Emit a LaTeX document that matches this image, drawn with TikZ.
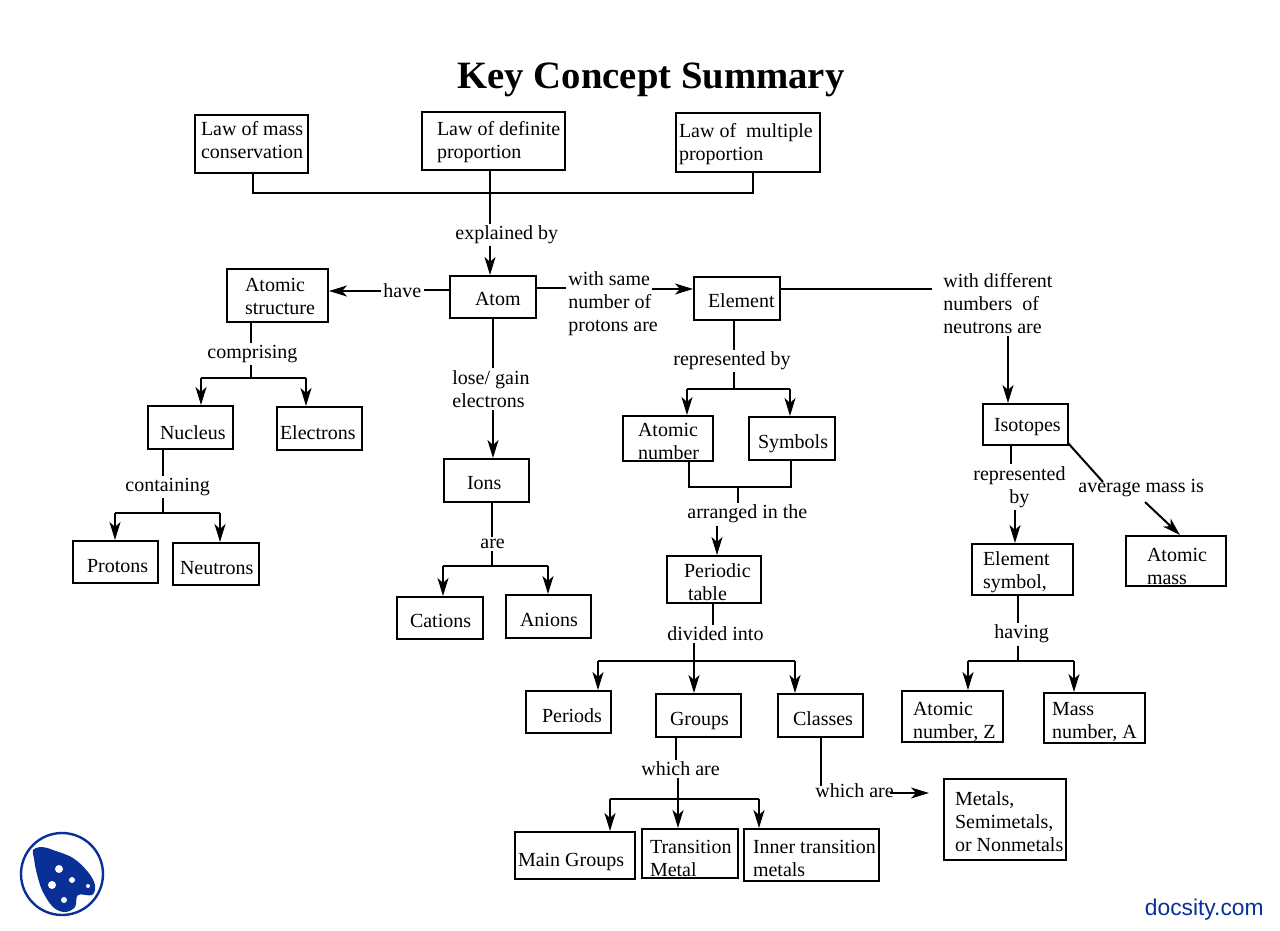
\documentclass[tikz,border=0pt]{standalone}
\usepackage{fontspec}
\setmainfont{Liberation Serif}
\newfontfamily\sitefont{Liberation Sans}
\usetikzlibrary{arrows.meta}
\definecolor{siteblue}{RGB}{8,48,150}
\newcommand{\inbox}[1]{\raisebox{\boxdrop}[0pt][0pt]{\makebox[0pt][l]{\hspace{\boxshift}\begin{tabular}{@{}l@{}}#1\end{tabular}}}}
\tikzset{
  conceptbox/.style n args={4}{draw, line width=1pt, inner sep=0pt, minimum width={#1*0.5pt}, minimum height={#2*0.5pt},
    /utils/exec={\pgfmathsetlengthmacro\boxshift{(#3-#1/2)*0.5pt}\pgfmathsetlengthmacro\boxdrop{-#4*0.5pt-3.7pt}}},
  linktext/.style={anchor=west, inner sep=1pt, align=left},
  flow/.style={line width=1pt},
  flowarrow/.style={line width=1pt, -{Stealth[length=9pt,width=5.5pt,inset=2.5pt]}}
}
\begin{document}
\begin{tikzpicture}[x=0.5pt, y=-0.5pt, font=\fontsize{10}{11.5}\selectfont]
  \useasboundingbox (0,0) rectangle (1280,931);

  \node[inner sep=0pt, font=\fontsize{19.35}{24}\selectfont\bfseries] (title) at (651,80) {Key Concept Summary};

  \node[conceptbox={113}{58}{6}{-4}] (lawmass) at (251.5,144) {\inbox{Law of mass\\conservation}};
  \node[conceptbox={143}{58}{15}{-1}] (lawdefinite) at (493.5,141) {\inbox{Law of definite\\proportion}};
  \node[conceptbox={144}{59}{3}{-0.5}] (lawmultiple) at (748,142.5) {\inbox{Law of~ multiple\\proportion}};
  \node[conceptbox={101}{53}{18}{0}] (structure) at (277.5,295.5) {\inbox{Atomic\\structure}};
  \node[conceptbox={86}{42}{25}{1}] (atom) at (493,297) {\inbox{Atom}};
  \node[conceptbox={86}{43}{14}{2}] (element) at (737,298.5) {\inbox{Element}};
  \node[conceptbox={85}{41}{11}{-0.5}] (isotopes) at (1025.5,424.5) {\inbox{Isotopes}};
  \node[conceptbox={85}{43}{12}{4.5}] (nucleus) at (190.5,427.5) {\inbox{Nucleus}};
  \node[conceptbox={85}{43}{3}{3.5}] (electrons) at (319.5,428.5) {\inbox{Electrons}};
  \node[conceptbox={85}{42}{14}{3}] (protons) at (115.5,562) {\inbox{Protons}};
  \node[conceptbox={86}{42}{7}{3}] (neutrons) at (216,564) {\inbox{Neutrons}};
  \node[conceptbox={85}{43}{23}{1.5}] (ions) at (486.5,480.5) {\inbox{Ions}};
  \node[conceptbox={86}{42}{13}{2}] (cations) at (440,618) {\inbox{Cations}};
  \node[conceptbox={85}{43}{14}{2.5}] (anions) at (548.5,616.5) {\inbox{Anions}};
  \node[conceptbox={90}{45}{15}{2}] (atomicnumber) at (668,438.5) {\inbox{Atomic\\number}};
  \node[conceptbox={86}{43}{9}{2.5}] (symbols) at (792,438.5) {\inbox{Symbols}};
  \node[conceptbox={94}{47}{17}{2.5}] (periodic) at (714,579.5) {\inbox{Periodic\\\hspace*{2pt}table}};
  \node[conceptbox={85}{42}{16}{3}] (periods) at (568.5,712) {\inbox{Periods}};
  \node[conceptbox={85}{43}{14}{2.5}] (groups) at (698.5,715.5) {\inbox{Groups}};
  \node[conceptbox={85}{43}{15}{2.5}] (classes) at (820.5,715.5) {\inbox{Classes}};
  \node[conceptbox={120}{47}{3}{3.5}] (maingroups) at (575,855.5) {\inbox{Main Groups}};
  \node[conceptbox={96}{49}{8}{4}] (transition) at (690,853.5) {\inbox{Transition\\Metal}};
  \node[conceptbox={135}{52}{9}{2.5}] (innertransition) at (811.5,855) {\inbox{Inner transition\\metals}};
  \node[conceptbox={122}{81}{11}{1.5}] (metals) at (1005,819.5) {\inbox{Metals,\\Semimetals,\\or Nonmetals}};
  \node[conceptbox={101}{51}{11}{0.5}] (elementsymbol) at (1022.5,569.5) {\inbox{Element\\symbol,}};
  \node[conceptbox={100}{50}{21}{4.5}] (atomicmass) at (1176,561) {\inbox{Atomic\\mass}};
  \node[conceptbox={101}{51}{11}{3}] (numberz) at (952.5,716.5) {\inbox{Atomic\\number, Z}};
  \node[conceptbox={101}{50}{8}{1.5}] (numbera) at (1094.5,718) {\inbox{Mass\\number, A}};

  \node[linktext] (explained) at (453,235) {explained by};
  \node[linktext] (have) at (381,291) {have};
  \node[linktext] (samenumber) at (566,304) {with same\\number of\\protons are};
  \node[linktext] (different) at (941,303.5) {with different\\numbers~ of\\neutrons are};
  \node[linktext] (comprising) at (205,354) {comprising};
  \node[linktext] (containing) at (123,487) {containing};
  \node[linktext] (losegain) at (450,389) {lose/ gain\\electrons};
  \node[linktext] (are) at (478,544) {are};
  \node[linktext] (representedone) at (671,361) {represented by};
  \node[linktext] (arranged) at (685,514) {arranged in the};
  \node[linktext] (divided) at (665,634) {divided into};
  \node[linktext] (whichgroups) at (639,769) {which are};
  \node[linktext] (whichclasses) at (813,791) {which are};
  \node[linktext, align=center] (representedtwo) at (971,487) {represented\\by};
  \node[linktext] (average) at (1076,488) {average mass is};
  \node[linktext] (having) at (992,634) {having};

  \coordinate (lawjoin) at (490,193);
  \draw[flow] (lawmass.south -| 253,0) |- (lawjoin) -| (lawmultiple.south -| 753,0);
  \draw[flow] (lawdefinite.south -| 490,0) -- (explained.north -| 490,0);
  \draw[flowarrow] (explained.south -| 490,0) -- (atom.north -| 490,0);
  \draw[flow] (atom.west |- 0,290) -- (have.east |- 0,290);
  \draw[flowarrow] (have.west |- 0,291) -- (structure.east |- 0,291);
  \draw[flow] (atom.east |- 0,288) -- (samenumber.west |- 0,288);
  \draw[flowarrow] (652,289) -- (element.west |- 0,289);
  \draw[flow, shorten >=4.5pt] (element.east |- 0,289) -- (different.west |- 0,289);
  \draw[flowarrow] (different.south -| 1008,0) -- (isotopes.north -| 1008,0);

  \draw[flow] (structure.south -| 251,0) -- (comprising.north -| 251,0);
  \draw[flow] (comprising.south -| 251,0) -- (251,378);
  \coordinate (compleft) at (201,378);
  \coordinate (compright) at (306,378);
  \draw[flow] (compleft) -- (compright);
  \draw[flowarrow] (compleft) -- (nucleus.north -| compleft);
  \draw[flowarrow] (compright) -- (electrons.north -| compright);

  \draw[flow] (nucleus.south -| 163,0) -- (containing.north -| 163,0);
  \draw[flow] (containing.south -| 163,0) -- (163,513);
  \coordinate (contleft) at (115,513);
  \coordinate (contright) at (220,513);
  \draw[flow] (contleft) -- (contright);
  \draw[flowarrow] (contleft) -- (protons.north -| contleft);
  \draw[flowarrow] (contright) -- (neutrons.north -| contright);

  \draw[flow] (atom.south -| 493,0) -- (losegain.north -| 493,0);
  \draw[flowarrow] (losegain.south -| 493,0) -- (ions.north -| 493,0);
  \draw[flow] (ions.south -| 492,0) -- (are.north -| 492,0);
  \draw[flow] (are.south -| 492,0) -- (492,566);
  \coordinate (areleft) at (443,566);
  \coordinate (areright) at (548,566);
  \draw[flow] (areleft) -- (areright);
  \draw[flowarrow] (areleft) -- (cations.north -| areleft);
  \draw[flowarrow] (areright) -- (anions.north -| areright);

  \draw[flow] (element.south -| 734,0) -- (representedone.north -| 734,0);
  \draw[flow] (representedone.south -| 734,0) -- (734,389);
  \coordinate (repleft) at (687,389);
  \coordinate (repright) at (790,389);
  \draw[flow] (repleft) -- (repright);
  \draw[flowarrow] (repleft) -- (atomicnumber.north -| repleft);
  \draw[flowarrow] (repright) -- (symbols.north -| repright);

  \coordinate (arrjoin) at (738,487);
  \draw[flow] (atomicnumber.south -| 689,0) |- (arrjoin) -| (symbols.south -| 791,0);
  \draw[flow] (arrjoin) -- (arranged.north -| arrjoin);
  \draw[flowarrow] (arranged.south -| 717,0) -- (periodic.north -| 717,0);
  \draw[flow] (periodic.south -| 713,0) -- (divided.north -| 713,0);
  \draw[flow] (divided.south -| 694,0) -- (694,661);
  \coordinate (divleft) at (598,661);
  \coordinate (divmid) at (694,661);
  \coordinate (divright) at (795,661);
  \draw[flow] (divleft) -- (divright);
  \draw[flowarrow] (divleft) -- (periods.north -| divleft);
  \draw[flowarrow] (divmid) -- (groups.north -| divmid);
  \draw[flowarrow] (divright) -- (classes.north -| divright);

  \draw[flow] (groups.south -| 676,0) -- (whichgroups.north -| 676,0);
  \draw[flow] (whichgroups.south -| 678,0) -- (678,799);
  \coordinate (whleft) at (610,799);
  \coordinate (whmid) at (678,799);
  \coordinate (whright) at (759,799);
  \draw[flow] (whleft) -- (whright);
  \draw[flowarrow] (whleft) -- (maingroups.north -| whleft);
  \draw[flowarrow] (whmid) -- (transition.north -| whmid);
  \draw[flowarrow] (whright) -- (innertransition.north -| whright);
  \draw[flow] (classes.south -| 821,0) -- (821,786);
  \draw[flowarrow, shorten >=7pt, shorten <=-3pt] (whichclasses.east |- 0,793) -- (metals.west |- 0,793);

  \draw[flow] (isotopes.south -| 1011,0) -- (representedtwo.north -| 1011,0);
  \draw[flowarrow] (representedtwo.south -| 1015,0) -- (elementsymbol.north -| 1015,0);
  \draw[flow] (1068,443) -- (1103,482);
  \draw[flowarrow] (1145,502) -- (1180,535);
  \draw[flow] (elementsymbol.south -| 1018,0) -- (having.north -| 1018,0);
  \draw[flow] (having.south -| 1018,0) -- (1018,661);
  \coordinate (havleft) at (968,661);
  \coordinate (havright) at (1074,661);
  \draw[flow] (havleft) -- (havright);
  \draw[flowarrow] (havleft) -- (numberz.north -| havleft);
  \draw[flowarrow] (havright) -- (numbera.north -| havright);

  % logo and site name
  \draw[siteblue, line width=1.2pt] (62,874) circle (41);
  \fill[siteblue] plot[smooth cycle, tension=0.6] coordinates {(33,850) (42,847) (53,850) (73,858) (88,872) (95,885) (92,895) (78,895) (75,907) (65,912) (53,907) (42,890) (36,870) (34,858)};
  \fill[white] (59,869) circle (4) (72,880) circle (3) (52,885) circle (4) (88,886) circle (2) (64,900) circle (3);
  \node[inner sep=0pt, anchor=east, text=siteblue, font=\sitefont\fontsize{11.4}{13}\selectfont] (site) at (1264,910) {docsity.com};
\end{tikzpicture}
\end{document}
